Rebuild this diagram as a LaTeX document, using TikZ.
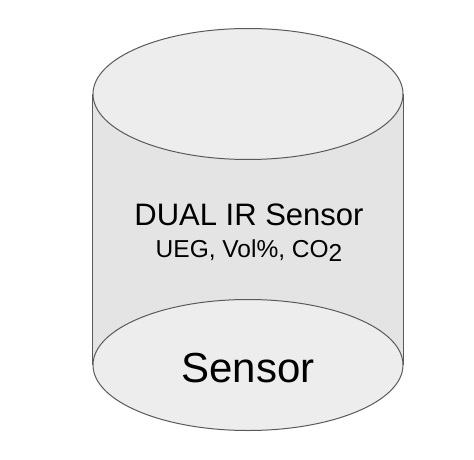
\documentclass[tikz,border=0pt]{standalone}
\usepackage{fontspec}
\setmainfont{Liberation Sans}
\usetikzlibrary{positioning,shapes.geometric}
\definecolor{bodygray}{HTML}{E4E4E4}
\definecolor{capgray}{HTML}{EDEDED}
\definecolor{edgegray}{HTML}{5A5A5A}

\begin{document}
\begin{tikzpicture}[x=1pt, y=-1pt,
  capnode/.style={ellipse, draw=edgegray, fill=capgray, line width=1pt, minimum width=310pt, minimum height=131pt, inner sep=0pt},
  edgeline/.style={draw=edgegray, line width=1pt},
  textnode/.style={inner sep=0pt, outer sep=0pt, anchor=base}
  ]
  \useasboundingbox (0,0) rectangle (474,460);

  % Cylinder ends
  \coordinate (topc) at (248,94);
  \coordinate (bottomc) at (248,365);

  % Body
  \fill[bodygray] (93,94) rectangle (403,365);
  \node[capnode]    (bottomcap)    at (bottomc)    {};
  \draw[edgeline] (bottomcap.west) -- (bottomcap.west |- topc);
  \draw[edgeline] (bottomcap.east) -- (bottomcap.east |- topc);
  \node[capnode]    (topcap)       at (topc)       {};

  % Labels
  \node[textnode, font=\fontsize{31}{31}\selectfont]    (title)    at (249,225)    {DUAL IR Sensor};
  \node[textnode, font=\fontsize{24.5}{24.5}\selectfont]    (gases)    at (249,257)    {UEG, Vol\%, CO\raisebox{-4pt}{2}};
  \node[textnode, font=\fontsize{42}{42}\selectfont]    (sensor)   at (248,382)    {Sensor};

\end{tikzpicture}
\end{document}
